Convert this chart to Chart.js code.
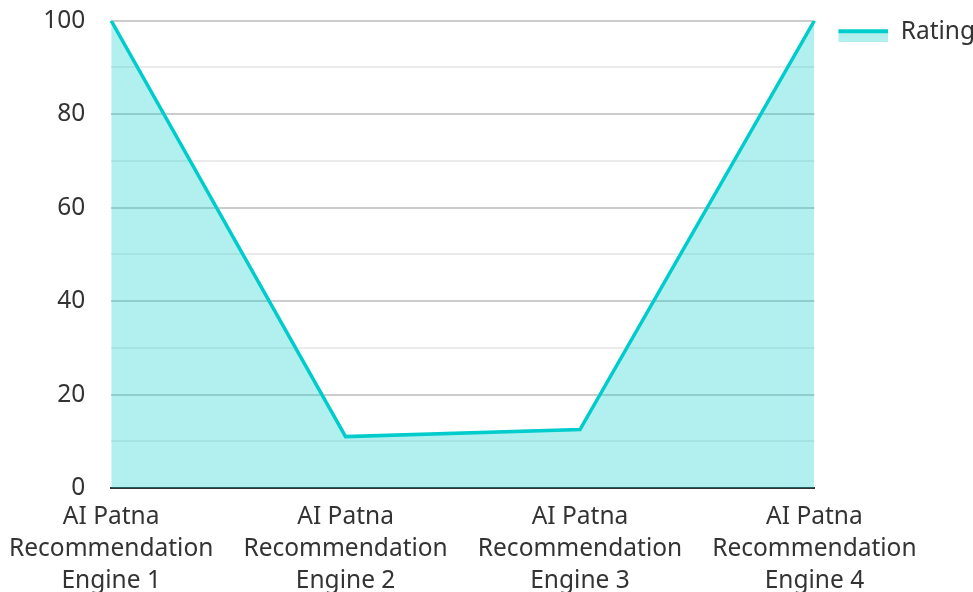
<!DOCTYPE html>
<html lang="en">
<head>
    <title>Rating</title>
    <script src="https://cdn.jsdelivr.net/npm/chart.js@4.4.0/dist/chart.umd.min.js"></script>
    <style>
        html, body { margin: 0; padding: 0; background: #fff; }
        #wrap { width: 973px; height: 592px; }
    </style>
</head>
<body>
    <div id="wrap"><canvas id="chart"></canvas></div>

    <script>
        // chart data
        const engines = [
            ["AI Patna", "Recommendation", "Engine 1"],
            ["AI Patna", "Recommendation", "Engine 2"],
            ["AI Patna", "Recommendation", "Engine 3"],
            ["AI Patna", "Recommendation", "Engine 4"]
        ];
        const ratings = [100, 11, 12.5, 100];
        const seriesName = "Rating";

        const lineColor = "#00cccc";
        const fillColor = "rgba(0, 204, 204, 0.3)";

        // legend swatch: thick line on top, light fill under it
        // (a few transparent px on the left / top to nudge it into place)
        const swatch = document.createElement("canvas");
        swatch.width = 54;
        swatch.height = 20;
        const sctx = swatch.getContext("2d");
        sctx.fillStyle = fillColor;
        sctx.fillRect(4, 7, 50, 13);
        sctx.fillStyle = lineColor;
        sctx.fillRect(4, 7, 50, 4);

        Chart.defaults.font.family = "'Noto Sans', sans-serif";
        Chart.defaults.font.size = 24.5;
        Chart.defaults.color = "#333";

        const chart = new Chart(document.getElementById("chart"), {
            type: "line",
            data: {
                labels: engines,
                datasets: [{
                    label: seriesName,
                    data: ratings,
                    borderColor: lineColor,
                    backgroundColor: fillColor,
                    borderWidth: 3.5,
                    fill: "origin",
                    tension: 0,
                    pointRadius: 0,
                    pointStyle: swatch
                }]
            },
            options: {
                responsive: true,
                maintainAspectRatio: false,
                animation: false,
                layout: { padding: { top: 0, right: -12, bottom: -14, left: 0 } },
                plugins: {
                    legend: {
                        position: "right",
                        align: "start",
                        labels: {
                            usePointStyle: true,
                            pointStyleWidth: 54,
                            padding: 20,
                            color: "#333"
                        }
                    },
                    tooltip: { enabled: false }
                },
                scales: {
                    x: {
                        offset: false,
                        grid: { display: false, drawTicks: true, tickLength: 4 },
                        border: { display: true, color: "#333", width: 2 },
                        ticks: { maxRotation: 0, autoSkip: false, padding: 9, font: { lineHeight: 1.306 } }
                    },
                    y: {
                        min: 0,
                        max: 100,
                        border: { display: false },
                        grid: {
                            drawTicks: true,
                            tickLength: 20,
                            tickColor: "rgba(0,0,0,0)",
                            color: function(c) {
                                if (c.tick.value === 0) return "rgba(0,0,0,0)";
                                return c.tick.value % 20 === 0 ? "rgba(0,0,0,0.2)" : "rgba(0,0,0,0.08)";
                            },
                            lineWidth: 2
                        },
                        ticks: {
                            stepSize: 10,
                            padding: 6,
                            callback: function(v) { return v % 20 === 0 ? v : ""; }
                        }
                    }
                }
            }
        });
    </script>
</body>
</html>
